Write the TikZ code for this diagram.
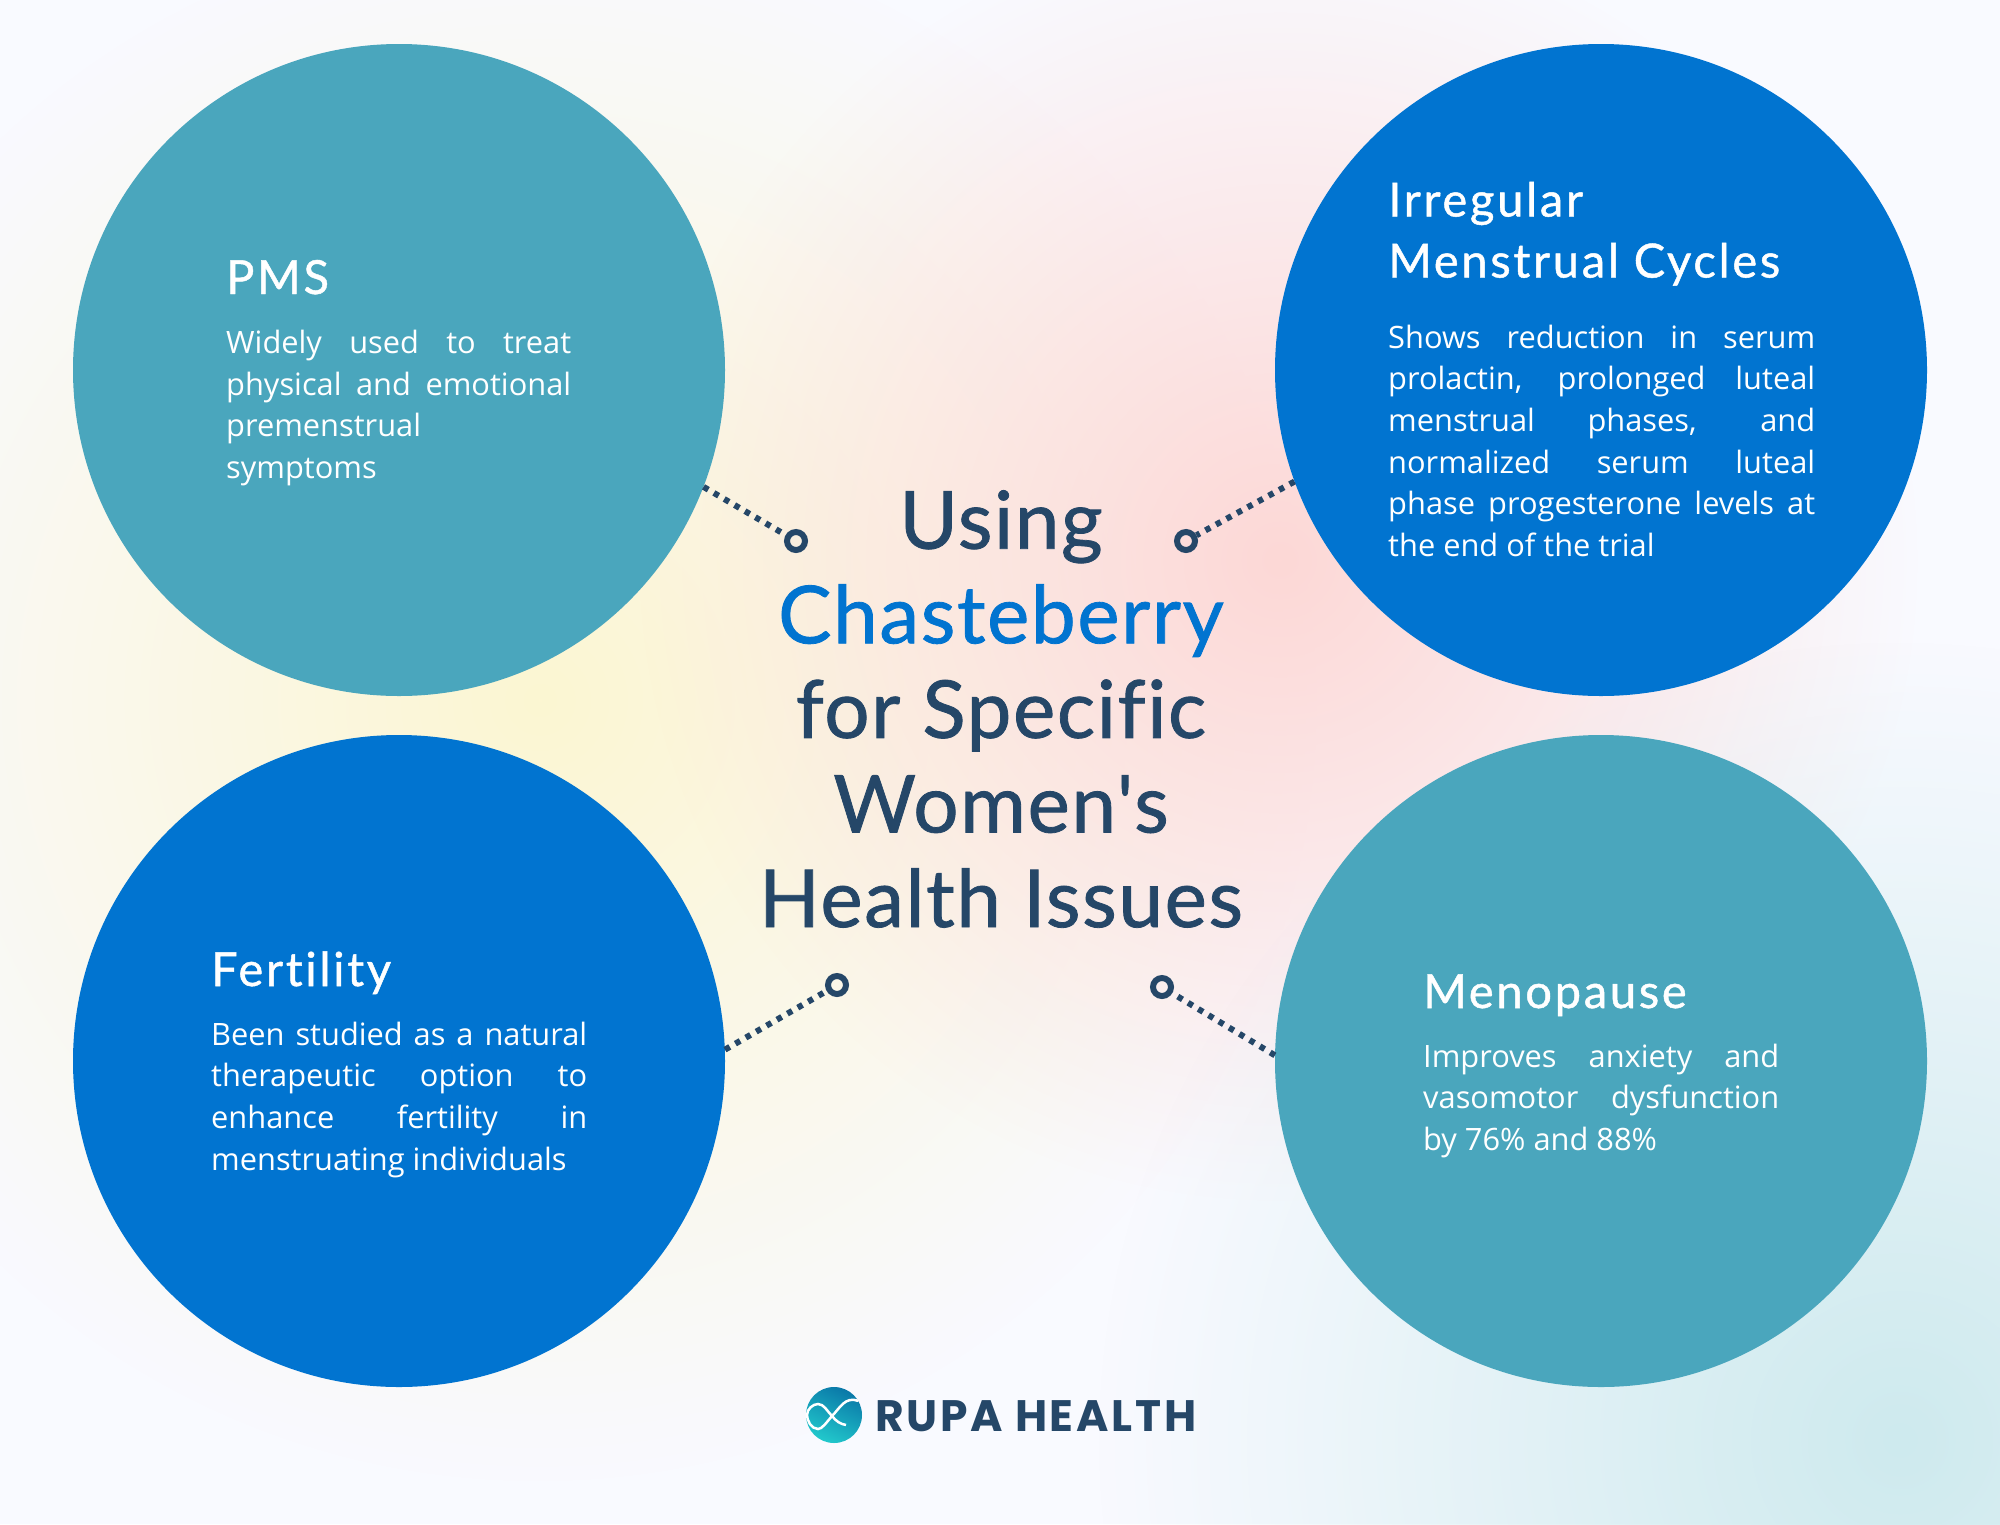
\documentclass[tikz,border=0pt]{standalone}
\usepackage{fontspec}
\usetikzlibrary{fadings}
\setmainfont{Open Sans}
\newfontfamily\headfont{Lato}[FakeBold=1,LetterSpace=5.8,Ligatures=NoCommon]
\newfontfamily\titlefont{Lato}[FakeBold=1,LetterSpace=2,Ligatures=NoCommon]
\newfontfamily\brandfont{Poppins Bold}[LetterSpace=6.2]
\definecolor{pagebg}{HTML}{F9FAFF}
\definecolor{tealfill}{HTML}{4AA6BD}
\definecolor{bluefill}{HTML}{0174D0}
\definecolor{inkblue}{HTML}{254768}
\definecolor{pinkblob}{HTML}{FDD8D6}
\definecolor{yellowblob}{HTML}{FCF6D2}
\definecolor{aquablob}{HTML}{CEEAEE}
\definecolor{logotop}{HTML}{0A78A8}
\definecolor{logobottom}{HTML}{22C9CC}
\tikzfading[name=blobfade, inner color=transparent!0, outer color=transparent!100]
\tikzset{
  bigcircle/.style={circle,minimum size=652pt,inner sep=0pt},
  headtext/.style={anchor=base west,inner sep=0pt,text=white,align=left,font=\headfont\fontsize{47}{61}\selectfont},
  bodytext/.style={anchor=base west,inner sep=0pt,text=white,align=justify,font=\fontsize{30.8}{41.7}\selectfont},
  ring/.style={circle,draw=inkblue,line width=6pt,minimum size=18pt,inner sep=0pt},
  dotline/.style={draw=inkblue,line width=6pt,dash pattern=on 5.5pt off 6.5pt}
}
\begin{document}
\begin{tikzpicture}[x=1pt,y=-1pt]
\path[use as bounding box] (0,0) rectangle (2000,1524);
\fill[pagebg] (0,0) rectangle (2000,1524);

% soft colour patches behind everything
\fill[yellowblob,path fading=blobfade] (540,700) circle (780);
\fill[pinkblob,path fading=blobfade] (1280,560) circle (640);
\fill[aquablob,path fading=blobfade] (1900,1440) circle (800);

\node[bigcircle,fill=tealfill] (pms) at (399,370) {};
\node[bigcircle,fill=bluefill,right of=pms,node distance=1202pt] (cycles) {};
\node[bigcircle,fill=bluefill,below of=pms,node distance=691pt] (fertility) {};
\node[bigcircle,fill=tealfill,right of=fertility,node distance=1202pt] (menopause) {};

\node[headtext] (pmshead) at (226,294) {PMS};
\node[bodytext,text width=345pt] (pmsbody) at (226,353.5) {Widely used to treat\linebreak
physical and emotional\linebreak premenstrual\\ symptoms};

\node[headtext] (cycleshead) at (1388,277.5) {Irregular\\ Menstrual Cycles};
\node[bodytext,text width=427pt] (cyclesbody) at (1388,348) {Shows reduction in serum\linebreak
prolactin, prolonged luteal\linebreak menstrual phases, and\linebreak
normalized serum luteal\linebreak phase progesterone levels at\linebreak the end of the trial};

\node[headtext] (fertilityhead) at (211,986) {Fertility};
\node[bodytext,text width=376pt] (fertilitybody) at (211,1045) {Been studied as a natural\linebreak
therapeutic option to\linebreak enhance fertility in\linebreak menstruating individuals};

\node[headtext] (menopausehead) at (1423,1008) {Menopause};
\node[bodytext,text width=356pt] (menopausebody) at (1423,1067) {Improves anxiety and\linebreak
vasomotor dysfunction\linebreak by 76\% and 88\%};

\node[align=center,text=inkblue,inner sep=0pt,font=\titlefont\fontsize{80}{94.6}\selectfont] (title) at (1001,709)
{Using\\ \textcolor{bluefill}{Chasteberry}\\ for Specific\\ Women's\\ Health Issues};

\node[ring] (ringa) at (796,541) {};
\node[ring] (ringb) at (1186,541) {};
\node[ring] (ringc) at (837,985) {};
\node[ring] (ringd) at (1162,987) {};

\draw[dotline] (pms.-21) -- (ringa);
\draw[dotline] (cycles.200) -- (ringb);
\draw[dotline] (fertility.2) -- (ringc);
\draw[dotline] (menopause.179) -- (ringd);

% logo
\node[circle,minimum size=56pt,inner sep=0pt,top color=logotop,bottom color=logobottom,shading angle=-25] (logo) at (834,1415) {};
\draw[white,line width=2.5pt] (logo.30) .. controls (845,1396) and (840,1408) .. (832,1416)
  .. controls (826,1423) and (822,1429) .. (818,1429) .. controls (811,1429) and (807,1420) .. (807,1415)
  .. controls (807,1409) and (813,1404) .. (818,1404) .. controls (824,1404) and (827,1411) .. (832,1416)
  .. controls (836,1421) and (840,1424) .. (846,1425);

\node[text=inkblue,inner sep=0pt,anchor=base west,font=\brandfont\fontsize{44}{50}\selectfont] (brand) at (875,1431) {RUPA HEALTH};
\end{tikzpicture}
\end{document}
